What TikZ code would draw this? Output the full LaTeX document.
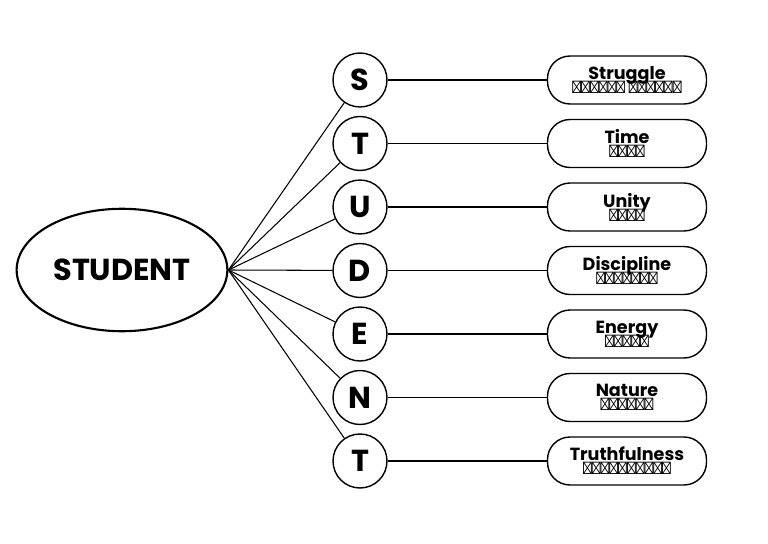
\documentclass[tikz,border=0pt]{standalone}
\usepackage{fontspec}
\setmainfont{Poppins}
\usetikzlibrary{shapes.geometric}
\begin{document}
\begin{tikzpicture}[x=0.02cm, y=-0.02cm, semithick,
    letter/.style={draw,circle,thick,minimum size=1.08cm,inner sep=0pt,font=\bfseries\LARGE},
    word/.style={draw,thick,rounded corners=0.45cm,minimum width=3.18cm,minimum height=0.96cm,inner sep=1pt,align=center,font=\bfseries}]
  \useasboundingbox (0,0) rectangle (768,544);
  \node [draw,ellipse,very thick,minimum width=3.2cm,minimum height=2.45cm,font=\bfseries\LARGE] (student) at (122,270) {STUDENT};

  \foreach \i/\l/\w/\b in {1/S/Struggle/বারবার চেষ্টা, 2/T/Time/সময়, 3/U/Unity/একতা,
      4/D/Discipline/শৃঙ্খলা, 5/E/Energy/শক্তি, 6/N/Nature/স্বভাব, 7/T/Truthfulness/সত্যবাদীতা} {
    \node [letter] (l\i) at (360,{80+63.5*(\i-1)}) {\l};
    \node [word] (w\i) at (627,{80+63.5*(\i-1)}) {\w\\[-4pt]\b};
    \draw (student.east) -- (l\i);
    \draw (l\i) -- (w\i);
  }
\end{tikzpicture}
\end{document}
